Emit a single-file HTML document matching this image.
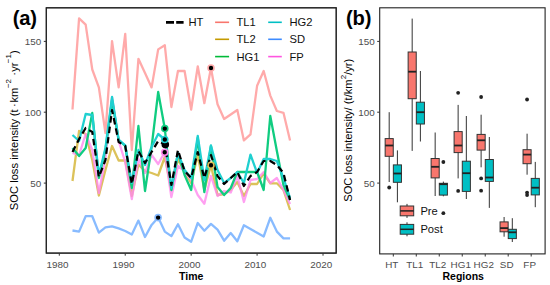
<!DOCTYPE html>
<html><head><meta charset="utf-8"><style>
html,body{margin:0;padding:0;background:#fff;width:550px;height:285px;overflow:hidden}
svg{display:block;font-family:"Liberation Sans", sans-serif}
</style></head><body>
<svg width="550" height="285" viewBox="0 0 550 285">
<defs><clipPath id="clipa"><rect x="46.3" y="7.8" width="289.9" height="245.3"/></clipPath></defs>
<rect x="46.3" y="7.8" width="289.9" height="245.3" fill="#fff" stroke="#222" stroke-width="1.1"/>
<g clip-path="url(#clipa)" fill="none" stroke-linejoin="round" stroke-width="2.3">
<polyline points="72.49,109.50 79.08,18.40 85.67,24.70 92.27,69.50 98.86,87.40 105.45,133.00 112.04,41.20 118.64,87.40 125.23,33.80 131.82,150.00 138.42,58.80 145.01,73.00 151.60,87.40 158.19,49.40 164.79,45.20 171.38,107.00 177.97,71.00 184.57,71.00 191.16,109.50 197.75,66.30 204.35,103.20 210.94,68.00 217.53,104.20 224.12,119.00 230.72,114.50 237.31,110.00 243.90,140.40 250.50,134.30 257.09,85.80 263.68,71.00 270.28,95.60 276.87,111.00 283.46,112.80 290.06,140.40" stroke="#ffaaaa"/>
<polyline points="72.49,230.50 79.08,231.60 85.67,216.20 92.27,216.20 98.86,232.60 105.45,227.40 112.04,226.30 118.64,228.40 125.23,231.00 131.82,234.50 138.42,220.60 145.01,237.00 151.60,224.90 158.19,217.60 164.79,231.60 171.38,236.10 177.97,224.30 184.57,237.60 191.16,241.70 197.75,223.00 204.35,230.70 210.94,223.90 217.53,229.70 224.12,240.70 230.72,233.00 237.31,241.30 243.90,225.30 250.50,229.00 257.09,232.80 263.68,236.50 270.28,217.80 276.87,231.60 283.46,238.40 290.06,238.40" stroke="#88bbff"/>
<polyline points="72.49,181.00 79.08,131.00 85.67,134.00 92.27,160.00 98.86,195.50 105.45,170.00 112.04,146.00 118.64,160.50 125.23,160.50 131.82,196.00 138.42,164.60 145.01,171.00 151.60,173.00 158.19,175.50 164.79,157.00 171.38,190.00 177.97,159.00 184.57,172.00 191.16,183.00 197.75,155.00 204.35,190.00 210.94,165.20 217.53,195.00 224.12,194.00 230.72,190.00 237.31,182.00 243.90,196.00 250.50,184.00 257.09,184.00 263.68,173.50 270.28,183.30 276.87,183.30 283.46,190.00 290.06,210.00" stroke="#dcc25a"/>
<polyline points="72.49,153.00 79.08,155.00 85.67,134.00 92.27,150.00 98.86,193.00 105.45,158.00 112.04,97.50 118.64,141.00 125.23,162.00 131.82,199.00 138.42,159.00 145.01,173.00 151.60,155.00 158.19,164.00 164.79,152.00 171.38,197.00 177.97,166.00 184.57,171.00 191.16,180.00 197.75,195.00 204.35,203.70 210.94,176.00 217.53,196.00 224.12,191.00 230.72,192.50 237.31,176.00 243.90,202.00 250.50,180.00 257.09,179.00 263.68,172.00 270.28,183.00 276.87,178.00 283.46,190.00 290.06,204.00" stroke="#ff88ee" stroke-opacity="0.8"/>
<polyline points="72.49,148.00 79.08,156.00 85.67,148.00 92.27,113.00 98.86,178.00 105.45,150.00 112.04,100.00 118.64,140.00 125.23,146.00 131.82,188.00 138.42,126.00 145.01,191.00 151.60,147.00 158.19,92.00 164.79,128.50 171.38,190.00 177.97,153.00 184.57,175.00 191.16,190.00 197.75,138.00 204.35,192.00 210.94,146.00 217.53,187.00 224.12,195.00 230.72,188.00 237.31,172.00 243.90,172.00 250.50,172.00 257.09,172.00 263.68,190.00 270.28,116.00 276.87,151.00 283.46,185.00 290.06,200.00" stroke="#10cc80"/>
<polyline points="72.49,135.00 79.08,141.00 85.67,114.00 92.27,115.00 98.86,175.00 105.45,148.00 112.04,97.00 118.64,139.60 125.23,145.30 131.82,183.00 138.42,150.00 145.01,165.00 151.60,147.00 158.19,134.00 164.79,139.50 171.38,188.00 177.97,153.00 184.57,170.00 191.16,178.00 197.75,136.00 204.35,180.00 210.94,145.50 217.53,170.00 224.12,183.00 230.72,178.00 237.31,172.00 243.90,183.00 250.50,154.60 257.09,173.00 263.68,159.00 270.28,159.00 276.87,161.00 283.46,178.00 290.06,198.00" stroke="#20d0d0"/>
<polyline points="72.49,152.00 79.08,139.00 85.67,128.00 92.27,132.00 98.86,177.00 105.45,160.00 112.04,110.00 118.64,142.00 125.23,146.00 131.82,184.00 138.42,151.00 145.01,163.00 151.60,152.00 158.19,141.00 164.79,144.50 171.38,185.00 177.97,150.00 184.57,171.00 191.16,178.00 197.75,152.00 204.35,178.00 210.94,155.00 217.53,176.00 224.12,184.00 230.72,178.00 237.31,172.00 243.90,186.00 250.50,176.00 257.09,172.00 263.68,161.00 270.28,161.00 276.87,165.00 283.46,173.00 290.06,200.00" stroke="#000" stroke-width="2.2" stroke-dasharray="6.5,4"/>
</g>
<circle cx="211.0" cy="68" r="3.0" fill="#000" stroke="#ffaaaa" stroke-width="1.6"/>
<circle cx="165.3" cy="144.6" r="3.0" fill="#000" stroke="#000" stroke-width="1.6"/>
<circle cx="164.8" cy="128.6" r="3.0" fill="#000" stroke="#10cc80" stroke-width="1.6"/>
<circle cx="164.8" cy="139.5" r="3.0" fill="#000" stroke="#20d0d0" stroke-width="1.6"/>
<circle cx="164.7" cy="152.2" r="3.0" fill="#000" stroke="#ff88ee" stroke-width="1.6"/>
<circle cx="211.0" cy="165.2" r="3.0" fill="#000" stroke="#dcc25a" stroke-width="1.6"/>
<circle cx="158.1" cy="217.6" r="3.0" fill="#000" stroke="#88bbff" stroke-width="1.6"/>
<line x1="166" y1="22.3" x2="183.6" y2="22.3" stroke="#000" stroke-width="2.7" stroke-dasharray="8,2.2"/>
<text x="188.5" y="26.2" font-size="11.2" fill="#111">HT</text>
<line x1="215.1" y1="22.3" x2="229.1" y2="22.3" stroke="#f8766d" stroke-width="1.6"/>
<text x="236.4" y="26.2" font-size="11.2" fill="#111">TL1</text>
<line x1="215.1" y1="39.3" x2="229.1" y2="39.3" stroke="#c49a00" stroke-width="1.6"/>
<text x="236.4" y="43.199999999999996" font-size="11.2" fill="#111">TL2</text>
<line x1="215.1" y1="56.6" x2="229.1" y2="56.6" stroke="#00ba38" stroke-width="1.6"/>
<text x="236.4" y="60.5" font-size="11.2" fill="#111">HG1</text>
<line x1="268.2" y1="22.3" x2="281.8" y2="22.3" stroke="#00bfc4" stroke-width="1.6"/>
<text x="289.5" y="26.2" font-size="11.2" fill="#111">HG2</text>
<line x1="268.2" y1="39.3" x2="281.8" y2="39.3" stroke="#3d8bff" stroke-width="1.6"/>
<text x="289.5" y="43.199999999999996" font-size="11.2" fill="#111">SD</text>
<line x1="268.2" y1="56.6" x2="281.8" y2="56.6" stroke="#ff55e0" stroke-width="1.6"/>
<text x="289.5" y="60.5" font-size="11.2" fill="#111">FP</text>
<rect x="46.3" y="7.8" width="289.9" height="245.3" fill="none" stroke="#222" stroke-width="1.1"/>
<line x1="43.8" y1="183.1" x2="46.3" y2="183.1" stroke="#333" stroke-width="1"/>
<text x="41.3" y="186.79999999999998" font-size="9.9" fill="#4d4d4d" text-anchor="end">50</text>
<line x1="43.8" y1="112.2" x2="46.3" y2="112.2" stroke="#333" stroke-width="1"/>
<text x="41.3" y="115.9" font-size="9.9" fill="#4d4d4d" text-anchor="end">100</text>
<line x1="43.8" y1="41.4" x2="46.3" y2="41.4" stroke="#333" stroke-width="1"/>
<text x="41.3" y="45.1" font-size="9.9" fill="#4d4d4d" text-anchor="end">150</text>
<line x1="59.30" y1="253.1" x2="59.30" y2="255.7" stroke="#333" stroke-width="1"/>
<text x="57.60" y="268.0" font-size="9.9" fill="#4d4d4d" text-anchor="middle">1980</text>
<line x1="125.23" y1="253.1" x2="125.23" y2="255.7" stroke="#333" stroke-width="1"/>
<text x="123.53" y="268.0" font-size="9.9" fill="#4d4d4d" text-anchor="middle">1990</text>
<line x1="191.16" y1="253.1" x2="191.16" y2="255.7" stroke="#333" stroke-width="1"/>
<text x="189.46" y="268.0" font-size="9.9" fill="#4d4d4d" text-anchor="middle">2000</text>
<line x1="257.09" y1="253.1" x2="257.09" y2="255.7" stroke="#333" stroke-width="1"/>
<text x="255.39" y="268.0" font-size="9.9" fill="#4d4d4d" text-anchor="middle">2010</text>
<line x1="323.02" y1="253.1" x2="323.02" y2="255.7" stroke="#333" stroke-width="1"/>
<text x="321.32" y="268.0" font-size="9.9" fill="#4d4d4d" text-anchor="middle">2020</text>
<text x="191.2" y="280.4" font-size="10.5" font-weight="bold" fill="#000" text-anchor="middle">Time</text>
<g transform="translate(18,209.7) rotate(-90)" fill="#000" font-size="11.2"><text x="-0.5" y="0">SOC loss intensity</text><text x="93.5" y="0">(t</text><text x="102.6" y="0">·</text><text x="107.2" y="0">km</text><text x="121.6" y="-6.7" font-size="8">−2</text><text x="133.9" y="0">·</text><text x="137.9" y="0">yr</text><text x="146.5" y="-6.7" font-size="8">−1</text><text x="155.6" y="0">)</text></g>
<text x="12.8" y="25.2" font-size="20.2" letter-spacing="-0.3" font-weight="bold" fill="#000">(a)</text>
<rect x="379.7" y="7.8" width="165.4" height="246.1" fill="#fff" stroke="#222" stroke-width="1.1"/>
<line x1="389.20" y1="112.2" x2="389.20" y2="182" stroke="#333" stroke-width="1"/>
<rect x="385.15" y="138.6" width="8.1" height="17.70" fill="#f8766d" stroke="#333" stroke-width="1"/>
<line x1="385.15" y1="145.5" x2="393.25" y2="145.5" stroke="#222" stroke-width="1.8"/>
<line x1="397.40" y1="150.4" x2="397.40" y2="202.3" stroke="#333" stroke-width="1"/>
<rect x="393.35" y="164.9" width="8.1" height="17.40" fill="#00bfc4" stroke="#333" stroke-width="1"/>
<line x1="393.35" y1="173.5" x2="401.45" y2="173.5" stroke="#222" stroke-width="1.8"/>
<circle cx="389.20" cy="187.5" r="1.9" fill="#222"/>
<line x1="412.18" y1="18.6" x2="412.18" y2="150.9" stroke="#333" stroke-width="1"/>
<rect x="408.13" y="52" width="8.1" height="46.70" fill="#f8766d" stroke="#333" stroke-width="1"/>
<line x1="408.13" y1="71.7" x2="416.23" y2="71.7" stroke="#222" stroke-width="1.8"/>
<line x1="420.38" y1="71" x2="420.38" y2="141.5" stroke="#333" stroke-width="1"/>
<rect x="416.33" y="102.2" width="8.1" height="21.80" fill="#00bfc4" stroke="#333" stroke-width="1"/>
<line x1="416.33" y1="112.2" x2="424.43" y2="112.2" stroke="#222" stroke-width="1.8"/>
<line x1="435.16" y1="132.5" x2="435.16" y2="196" stroke="#333" stroke-width="1"/>
<rect x="431.11" y="158.5" width="8.1" height="19.40" fill="#f8766d" stroke="#333" stroke-width="1"/>
<line x1="431.11" y1="166.8" x2="439.21" y2="166.8" stroke="#222" stroke-width="1.8"/>
<line x1="443.36" y1="181.6" x2="443.36" y2="196.3" stroke="#333" stroke-width="1"/>
<rect x="439.31" y="183.3" width="8.1" height="11.80" fill="#00bfc4" stroke="#333" stroke-width="1"/>
<line x1="439.31" y1="184.2" x2="447.41" y2="184.2" stroke="#222" stroke-width="1.8"/>
<circle cx="443.36" cy="162" r="1.9" fill="#222"/>
<circle cx="443.36" cy="213.2" r="1.9" fill="#222"/>
<line x1="458.14" y1="104.9" x2="458.14" y2="178.4" stroke="#333" stroke-width="1"/>
<rect x="454.09" y="131.6" width="8.1" height="21.00" fill="#f8766d" stroke="#333" stroke-width="1"/>
<line x1="454.09" y1="145.5" x2="462.19" y2="145.5" stroke="#222" stroke-width="1.8"/>
<line x1="466.34" y1="116" x2="466.34" y2="199" stroke="#333" stroke-width="1"/>
<rect x="462.29" y="161.2" width="8.1" height="30.20" fill="#00bfc4" stroke="#333" stroke-width="1"/>
<line x1="462.29" y1="173.2" x2="470.39" y2="173.2" stroke="#222" stroke-width="1.8"/>
<circle cx="458.14" cy="92.8" r="1.9" fill="#222"/>
<circle cx="458.14" cy="190.9" r="1.9" fill="#222"/>
<line x1="481.12" y1="114.7" x2="481.12" y2="167.3" stroke="#333" stroke-width="1"/>
<rect x="477.07" y="134.4" width="8.1" height="15.70" fill="#f8766d" stroke="#333" stroke-width="1"/>
<line x1="477.07" y1="140.3" x2="485.17" y2="140.3" stroke="#222" stroke-width="1.8"/>
<line x1="489.32" y1="137" x2="489.32" y2="207.9" stroke="#333" stroke-width="1"/>
<rect x="485.27" y="159.5" width="8.1" height="21.90" fill="#00bfc4" stroke="#333" stroke-width="1"/>
<line x1="485.27" y1="177.5" x2="493.37" y2="177.5" stroke="#222" stroke-width="1.8"/>
<circle cx="481.12" cy="97" r="1.9" fill="#222"/>
<circle cx="481.12" cy="178.4" r="1.9" fill="#222"/>
<circle cx="481.12" cy="190.7" r="1.9" fill="#222"/>
<line x1="504.10" y1="217" x2="504.10" y2="236.7" stroke="#333" stroke-width="1"/>
<rect x="500.05" y="221.9" width="8.1" height="9.90" fill="#f8766d" stroke="#333" stroke-width="1"/>
<line x1="500.05" y1="228.1" x2="508.15" y2="228.1" stroke="#222" stroke-width="1.8"/>
<line x1="512.30" y1="218.2" x2="512.30" y2="242" stroke="#333" stroke-width="1"/>
<rect x="508.25" y="229.3" width="8.1" height="9.30" fill="#00bfc4" stroke="#333" stroke-width="1"/>
<line x1="508.25" y1="232.3" x2="516.35" y2="232.3" stroke="#222" stroke-width="1.8"/>
<line x1="527.08" y1="133.7" x2="527.08" y2="174.7" stroke="#333" stroke-width="1"/>
<rect x="523.03" y="149.7" width="8.1" height="14.00" fill="#f8766d" stroke="#333" stroke-width="1"/>
<line x1="523.03" y1="154.6" x2="531.13" y2="154.6" stroke="#222" stroke-width="1.8"/>
<line x1="535.28" y1="161.9" x2="535.28" y2="207.2" stroke="#333" stroke-width="1"/>
<rect x="531.23" y="178.4" width="8.1" height="16.50" fill="#00bfc4" stroke="#333" stroke-width="1"/>
<line x1="531.23" y1="187.7" x2="539.33" y2="187.7" stroke="#222" stroke-width="1.8"/>
<circle cx="527.08" cy="99.5" r="1.9" fill="#222"/>
<circle cx="527.08" cy="192.6" r="1.9" fill="#222"/>
<circle cx="527.08" cy="195.1" r="1.9" fill="#222"/>
<line x1="407" y1="203.9" x2="407" y2="217.9" stroke="#333" stroke-width="1"/>
<rect x="400.2" y="206.0" width="13.5" height="9.8" fill="#f8766d" stroke="#333" stroke-width="1"/>
<line x1="400.2" y1="210.9" x2="413.7" y2="210.9" stroke="#222" stroke-width="1.5"/>
<text x="420.4" y="214.8" font-size="11.2" fill="#111">Pre</text>
<line x1="407" y1="222.3" x2="407" y2="236.3" stroke="#333" stroke-width="1"/>
<rect x="400.2" y="224.4" width="13.5" height="9.8" fill="#00bfc4" stroke="#333" stroke-width="1"/>
<line x1="400.2" y1="229.3" x2="413.7" y2="229.3" stroke="#222" stroke-width="1.5"/>
<text x="420.4" y="233.20000000000002" font-size="11.2" fill="#111">Post</text>
<line x1="377.2" y1="183.1" x2="379.7" y2="183.1" stroke="#333" stroke-width="1"/>
<text x="374.7" y="186.79999999999998" font-size="9.9" fill="#4d4d4d" text-anchor="end">50</text>
<line x1="377.2" y1="112.2" x2="379.7" y2="112.2" stroke="#333" stroke-width="1"/>
<text x="374.7" y="115.9" font-size="9.9" fill="#4d4d4d" text-anchor="end">100</text>
<line x1="377.2" y1="41.4" x2="379.7" y2="41.4" stroke="#333" stroke-width="1"/>
<text x="374.7" y="45.1" font-size="9.9" fill="#4d4d4d" text-anchor="end">150</text>
<line x1="393.30" y1="253.9" x2="393.30" y2="256.5" stroke="#333" stroke-width="1"/>
<text x="391.80" y="268.3" font-size="9.9" fill="#4d4d4d" text-anchor="middle">HT</text>
<line x1="416.28" y1="253.9" x2="416.28" y2="256.5" stroke="#333" stroke-width="1"/>
<text x="414.78" y="268.3" font-size="9.9" fill="#4d4d4d" text-anchor="middle">TL1</text>
<line x1="439.26" y1="253.9" x2="439.26" y2="256.5" stroke="#333" stroke-width="1"/>
<text x="437.76" y="268.3" font-size="9.9" fill="#4d4d4d" text-anchor="middle">TL2</text>
<line x1="462.24" y1="253.9" x2="462.24" y2="256.5" stroke="#333" stroke-width="1"/>
<text x="460.74" y="268.3" font-size="9.9" fill="#4d4d4d" text-anchor="middle">HG1</text>
<line x1="485.22" y1="253.9" x2="485.22" y2="256.5" stroke="#333" stroke-width="1"/>
<text x="483.72" y="268.3" font-size="9.9" fill="#4d4d4d" text-anchor="middle">HG2</text>
<line x1="508.20" y1="253.9" x2="508.20" y2="256.5" stroke="#333" stroke-width="1"/>
<text x="506.70" y="268.3" font-size="9.9" fill="#4d4d4d" text-anchor="middle">SD</text>
<line x1="531.18" y1="253.9" x2="531.18" y2="256.5" stroke="#333" stroke-width="1"/>
<text x="529.68" y="268.3" font-size="9.9" fill="#4d4d4d" text-anchor="middle">FP</text>
<text x="463.2" y="280.0" font-size="10.5" font-weight="bold" fill="#000" text-anchor="middle">Regions</text>
<g transform="translate(352.4,201.3) rotate(-90)" fill="#000" font-size="11.2"><text x="-0.5" y="0">SOC loss intensity/ (t/km<tspan font-size="8" dy="-6.5">2</tspan><tspan dy="6.5">/yr)</tspan></text></g>
<text x="346.0" y="25.2" font-size="20.2" letter-spacing="-0.1" font-weight="bold" fill="#000">(b)</text>
</svg>
</body></html>
